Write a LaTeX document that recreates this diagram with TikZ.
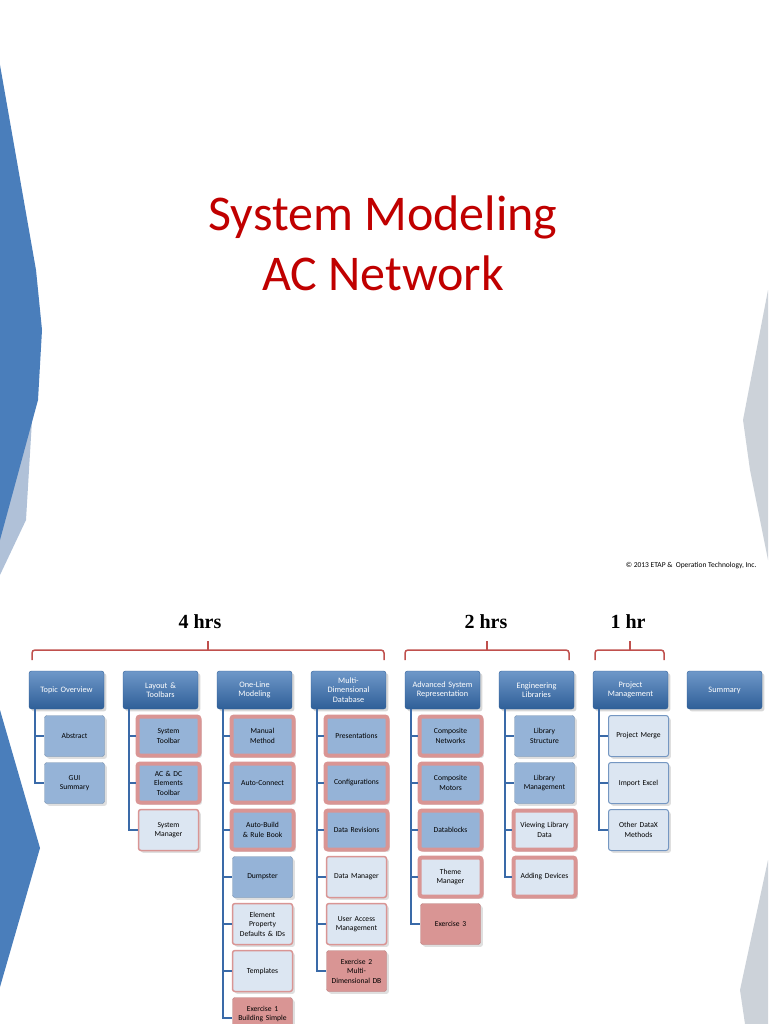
\documentclass[tikz,border=0pt]{standalone}
\usepackage{fontspec}
\setmainfont{Carlito}
\newfontfamily\serifhrs{Liberation Serif}
\usetikzlibrary{shadows}
\definecolor{hdrblue}{HTML}{4A7EBB}
\definecolor{hdrdark}{HTML}{2F5F98}
\definecolor{midblue}{HTML}{95B3D7}
\definecolor{lightbl}{HTML}{DCE6F2}
\definecolor{pinkb}{HTML}{D99594}
\definecolor{titlered}{HTML}{C00000}
\definecolor{linebl}{HTML}{3A6AA8}
\definecolor{bracered}{HTML}{C0504D}
\definecolor{greybl}{HTML}{8FA8C8}
\tikzset{
  x=1pt,y=-1pt,
  hdr/.style={draw=hdrdark,top color=hdrblue!80!white,bottom color=hdrdark,rounded corners=2.5pt,minimum width=75pt,minimum height=38pt,text width=72pt,align=center,text=white,font=\fontsize{8.3}{9.5}\selectfont,inner sep=1pt,drop shadow={opacity=0.3}},
  kid/.style={rounded corners=2.5pt,minimum width=60pt,minimum height=41pt,text width=58pt,align=center,font=\fontsize{7.6}{9.5}\selectfont,inner sep=1pt,drop shadow={opacity=0.25}},
  tA/.style={kid,fill=midblue,draw=midblue!80!black},
  tB/.style={kid,fill=midblue,draw=pinkb,line width=4pt,minimum width=62pt,minimum height=39pt},
  tC/.style={kid,fill=lightbl,draw=pinkb,line width=1.5pt},
  tCC/.style={kid,fill=lightbl,draw=pinkb,line width=4pt,minimum width=62pt,minimum height=39pt},
  tD/.style={kid,fill=pinkb,draw=pinkb!85!black},
  tE/.style={kid,fill=lightbl,draw=linebl!70,line width=1pt},
  conn/.style={draw=linebl,line width=1.4pt},
  brace/.style={draw=bracered,line width=1.5pt,rounded corners=3pt},
  hrs/.style={font=\serifhrs\bfseries\fontsize{20}{22}\selectfont}
}
\newcommand\hd[3]{\node[hdr] (h#1) at ({66.5+94*#1},690) {#3};}
\newcommand\ch[5]{\node[#2] (#1) at ({74.5+94*#3},{736+47*#4}) {#5};
  \draw[conn] ([xshift=6pt]h#3.south west) |- (#1.west);}
\begin{document}
\begin{tikzpicture}
\useasboundingbox (0,0) rectangle (768,1024);
\fill[white] (0,0) rectangle (768,1024);
% decorations
\fill[greybl,opacity=0.7] (0,330) -- (32,420) -- (26,520) -- (0,575) -- cycle;
\fill[hdrblue] (0,65) -- (36,270) -- (42,330) -- (38,400) -- (0,540) -- cycle;
\fill[lightbl!70!gray,opacity=0.8] (768,290) -- (743,420) -- (750,470) -- (768,560) -- cycle;
\fill[hdrblue] (0,710) -- (40,848) -- (0,987) -- cycle;
\fill[lightbl!70!gray,opacity=0.8] (768,860) -- (740,990) -- (745,1024) -- (768,1024) -- cycle;
% title
\node[text=titlered,font=\fontsize{50}{60}\selectfont,align=center] (title) at (383,243) {System Modeling\\AC Network};
\node[anchor=east,font=\fontsize{7.5}{8}\selectfont] (copy) at (760,566) {\textcopyright{} 2013 ETAP \&\ \ Operation Technology, Inc.};
% braces
\draw[brace] (32,660) -- (32,650) -- (384,650) -- (384,660);
\draw[brace] (208,650) -- (208,641);
\draw[brace] (405,660) -- (405,650) -- (569,650) -- (569,660);
\draw[brace] (487,650) -- (487,641);
\draw[brace] (595,660) -- (595,650) -- (664,650) -- (664,660);
\draw[brace] (630,650) -- (630,641);
\node[hrs] (t4) at (200,622) {4 hrs};
\node[hrs] (t2) at (486,622) {2 hrs};
\node[hrs] (t1) at (628,622) {1 hr};
% headers
\hd{0}{}{Topic Overview}
\hd{1}{}{Layout \&\\Toolbars}
\hd{2}{}{One-Line\\Modeling}
\hd{3}{}{Multi-\\Dimensional\\Database}
\hd{4}{}{Advanced System\\Representation}
\hd{5}{}{Engineering\\Libraries}
\hd{6}{}{Project\\Management}
\hd{7}{}{Summary}
% column 0
\ch{c0a}{tA}{0}{0}{Abstract}
\ch{c0b}{tA}{0}{1}{GUI\\Summary}
% column 1
\ch{c1a}{tB}{1}{0}{System\\Toolbar}
\ch{c1b}{tB}{1}{1}{AC \& DC\\Elements\\Toolbar}
\ch{c1c}{tC}{1}{2}{System\\Manager}
% column 2
\ch{c2a}{tB}{2}{0}{Manual\\Method}
\ch{c2b}{tB}{2}{1}{Auto-Connect}
\ch{c2c}{tB}{2}{2}{Auto-Build\\\& Rule Book}
\ch{c2d}{tA}{2}{3}{Dumpster}
\ch{c2e}{tC}{2}{4}{Element\\Property\\Defaults \& IDs}
\ch{c2f}{tC}{2}{5}{Templates}
\ch{c2g}{tD}{2}{6}{Exercise 1\\Building Simple\\One-Line}
% column 3
\ch{c3a}{tB}{3}{0}{Presentations}
\ch{c3b}{tB}{3}{1}{Configurations}
\ch{c3c}{tB}{3}{2}{Data Revisions}
\ch{c3d}{tC}{3}{3}{Data Manager}
\ch{c3e}{tC}{3}{4}{User Access\\Management}
\ch{c3f}{tD}{3}{5}{Exercise 2\\Multi-\\Dimensional DB}
% column 4
\ch{c4a}{tB}{4}{0}{Composite\\Networks}
\ch{c4b}{tB}{4}{1}{Composite\\Motors}
\ch{c4c}{tB}{4}{2}{Datablocks}
\ch{c4d}{tCC}{4}{3}{Theme\\Manager}
\ch{c4e}{tD}{4}{4}{Exercise 3}
% column 5
\ch{c5a}{tA}{5}{0}{Library\\Structure}
\ch{c5b}{tA}{5}{1}{Library\\Management}
\ch{c5c}{tCC}{5}{2}{Viewing Library\\Data}
\ch{c5d}{tCC}{5}{3}{Adding Devices}
% column 6
\ch{c6a}{tE}{6}{0}{Project Merge}
\ch{c6b}{tE}{6}{1}{Import Excel}
\ch{c6c}{tE}{6}{2}{Other DataX\\Methods}
\end{tikzpicture}
\end{document}
